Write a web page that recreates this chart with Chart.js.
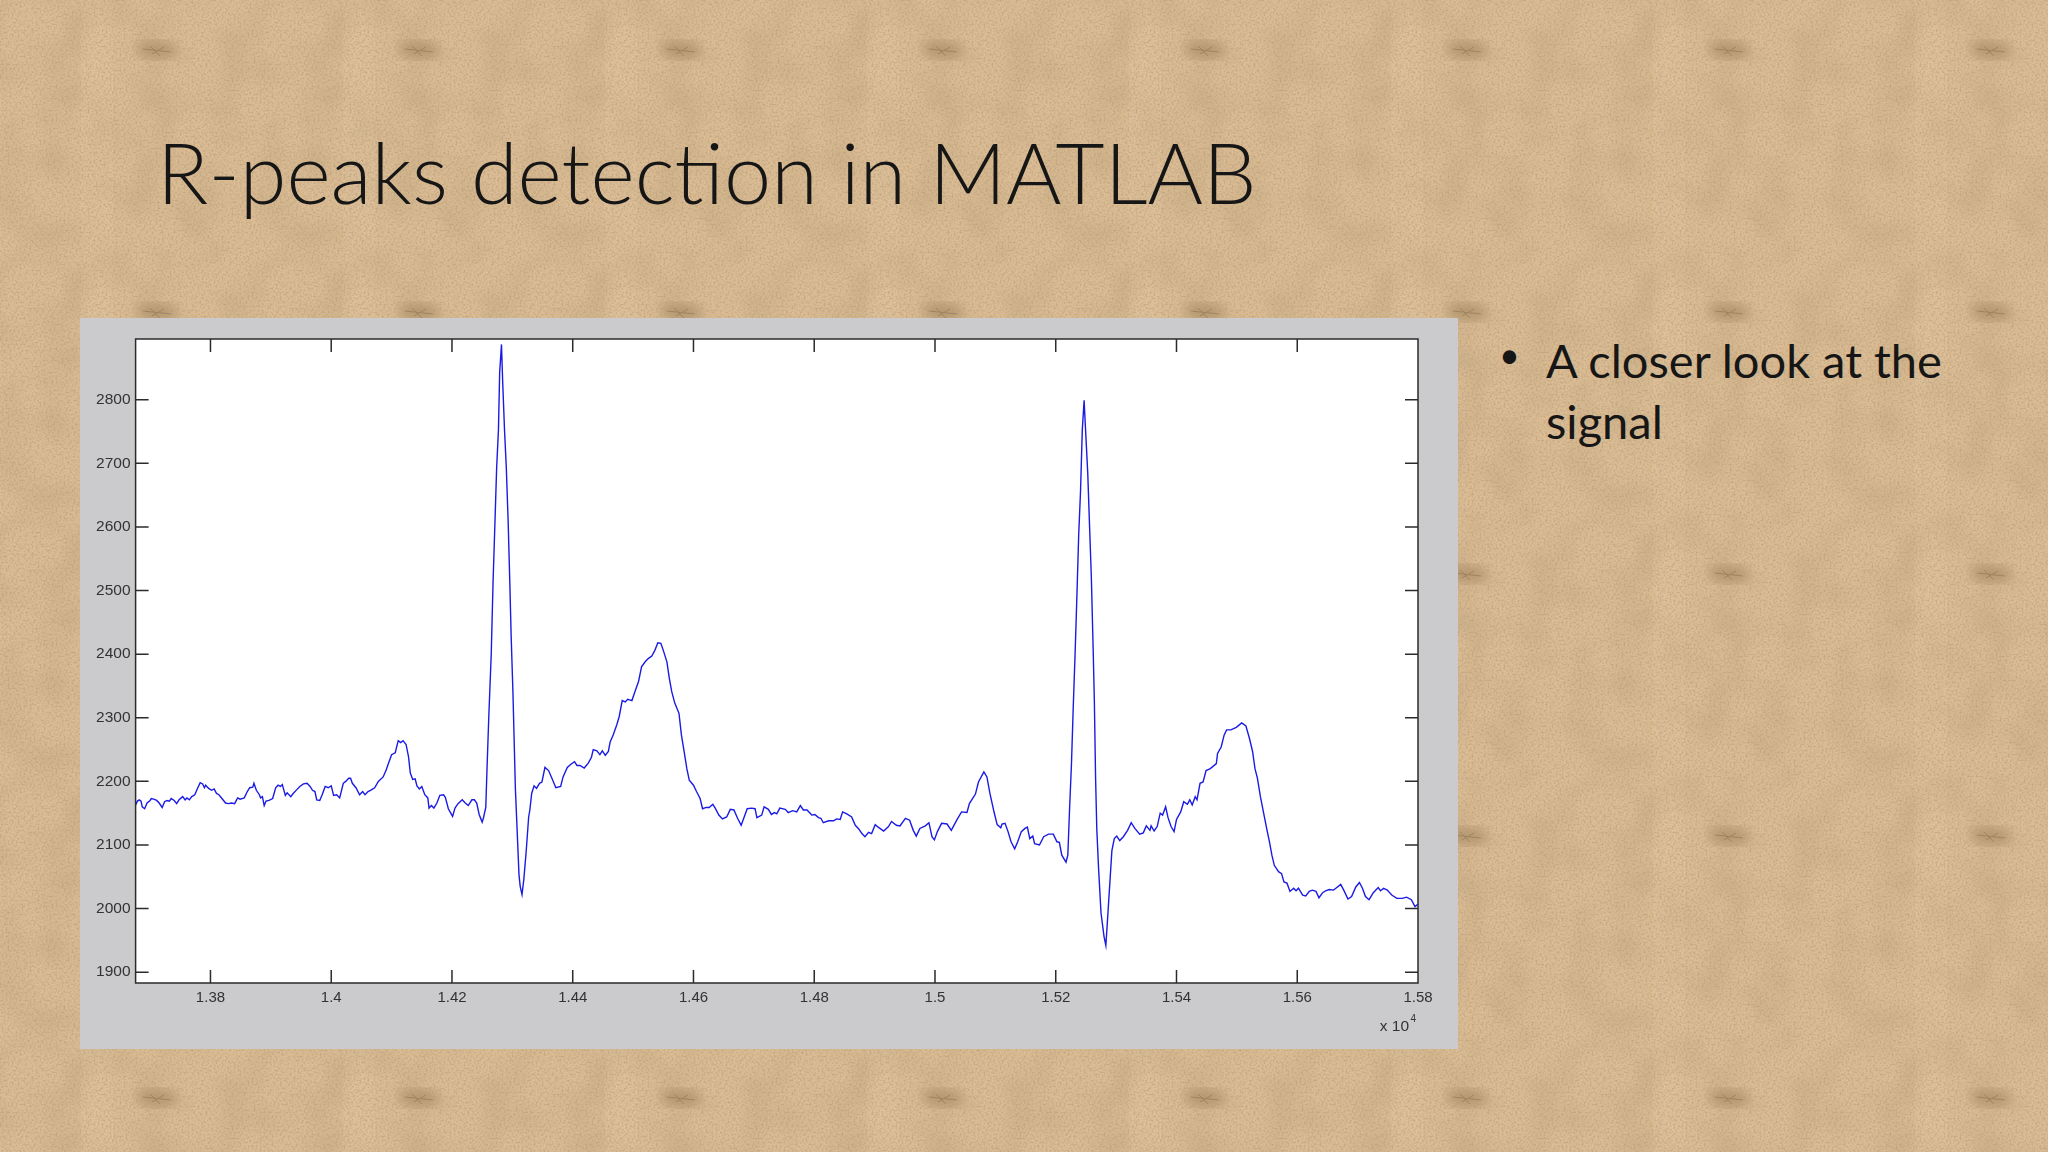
<!DOCTYPE html>
<html>
<head>
<meta charset="utf-8">
<title>R-peaks detection in MATLAB</title>
<script src="https://cdn.jsdelivr.net/npm/chart.js@4"></script>
<style>
  html, body { margin: 0; padding: 0; }
  body {
    width: 2048px; height: 1152px; overflow: hidden; position: relative;
    background-color: #dcbd95;
    background-image: url("data:image/svg+xml,%3Csvg xmlns='http://www.w3.org/2000/svg' width='262' height='262'%3E%3Cdefs%3E%3Cfilter id='n' x='0' y='0' width='100%25' height='100%25'%3E%3CfeTurbulence type='fractalNoise' baseFrequency='0.5' numOctaves='3' stitchTiles='stitch'/%3E%3CfeColorMatrix values='0 0 0 0 0.45 0 0 0 0 0.32 0 0 0 0 0.18 0 0 0 2.6 -1.05'/%3E%3C/filter%3E%3Cfilter id='m' x='0' y='0' width='100%25' height='100%25'%3E%3CfeTurbulence type='fractalNoise' baseFrequency='0.023' numOctaves='2' stitchTiles='stitch'/%3E%3CfeColorMatrix values='0 0 0 0 0.55 0 0 0 0 0.4 0 0 0 0 0.22 0 0 0 2.4 -0.95'/%3E%3C/filter%3E%3Cfilter id='b'%3E%3CfeGaussianBlur stdDeviation='6'/%3E%3C/filter%3E%3Cfilter id='c'%3E%3CfeGaussianBlur stdDeviation='16'/%3E%3C/filter%3E%3C/defs%3E%3Crect width='262' height='262' filter='url(%23m)' opacity='.5'/%3E%3Crect x='84' y='0' width='26' height='262' fill='%23ecd6b6' opacity='.28' filter='url(%23c)'/%3E%3Cellipse cx='157' cy='50' rx='20' ry='9' fill='%23937650' opacity='.5' filter='url(%23b)'/%3E%3Cpath d='M143 49 L171 52 M150 46 L160 56 M152 54 L164 47' stroke='%23735a3a' stroke-width='1' opacity='.45'/%3E%3Crect width='262' height='262' filter='url(%23n)' opacity='.6'/%3E%3C/svg%3E");
    color: #161616;
  }
  #title {
    position: absolute; left: 157px; top: 121px; margin: 0;
    font: 300 84.7px/100px Lato, sans-serif; white-space: nowrap;
  }
  #panel {
    position: absolute; left: 80px; top: 318px; width: 1378px; height: 731px;
    background: #cbcacc;
  }
  #bullet {
    position: absolute; left: 1546px; top: 330px; margin: 0; width: 480px;
    font: 400 47px/61px Lato, sans-serif;
  }
  #dot {
    position: absolute; left: 1499px; top: 336px;
    font: 400 36px/36px Lato, sans-serif;
  }
</style>
</head>
<body>
<h1 id="title" style="font-weight:300">R-peaks detection in MATLAB</h1>
<div id="panel"><canvas id="ecg" width="1378" height="731"></canvas></div>
<div id="dot">•</div>
<p id="bullet">A closer look at the signal</p>

<script>
// values: sample index, amplitude
const signalX = [
  13676,13679,13682,13685,13687,13691,13695,13700,13702,13706,13711,13715,13720,13724,13728,13732,13735,13740,13744,13748,
  13754,13758,13761,13765,13769,13774,13779,13783,13787,13790,13792,13797,13802,13806,13810,13814,13819,13825,13830,13835,
  13840,13845,13849,13856,13861,13865,13870,13872,13876,13881,13883,13886,13889,13892,13897,13903,13908,13912,13916,13919,
  13924,13927,13933,13937,13943,13948,13954,13960,13965,13969,13973,13976,13981,13985,13990,13995,14000,14004,14009,14014,
  14020,14024,14029,14032,14035,14041,14047,14052,14056,14061,14065,14072,14078,14086,14091,14094,14100,14106,14111,14115,
  14119,14124,14128,14131,14135,14139,14142,14146,14150,14155,14160,14162,14166,14170,14175,14180,14186,14189,14194,14198,
  14201,14205,14210,14217,14222,14227,14233,14237,14241,14245,14250,14252,
  14256,14258,14261,14265,14268,14271,14274,14277,14279,14282,14284,14287,14290,14293,14296,14298,14301,14303,14305,14307,
  14309,14311,14313,14316,14319,14323,14327,
  14329,14332,14336,14340,14345,14349,14354,14360,14365,14372,14380,14384,14391,14397,14403,14407,14412,14419,14426,14431,
  14434,14440,14445,14449,14454,14459,14462,14467,14473,14477,14482,14487,14491,14498,14503,14509,14514,14520,14525,14531,
  14536,14541,14546,14550,14556,14560,14564,14569,14576,14580,14585,14589,14593,14600,14605,14611,14615,14621,14626,14632,
  14636,14642,14648,14655,14661,14667,14673,14679,14684,14689,14696,14702,14705,14713,14717,14724,14729,14734,14738,14743,
  14752,14757,14764,14771,14777,14782,14788,14796,14801,14807,14811,14815,14824,14832,14837,14843,14847,14854,14862,14868,
  14873,14879,14884,14890,14895,14901,14906,14915,14923,14928,14936,14942,14951,14958,14964,14969,14975,14984,14990,14995,
  14999,15004,15011,15020,15027,15036,15044,15053,15057,15067,15072,15081,15086,15091,15098,15103,15109,
  15111,15116,15121,15126,15132,15137,15143,15149,15153,15157,15162,15165,15173,15180,15188,15196,15202,15206,15210,15217,15220,
  15223,15226,15229,15232,15235,15238,15241,15244,15247,15249,15253,15256,15259,15262,15264,15266,15268,15271,15275,15280,
  15283,15285,15289,15293,15297,
  15301,15306,15312,15319,15325,15331,15339,15345,15350,15356,15358,15363,15368,15373,15377,15382,15386,15391,15396,15400,
  15407,15412,15418,15422,15426,15431,15434,15439,15444,15449,15456,15466,15468,15474,15479,15483,15490,15499,15508,15515,
  15521,15526,15530,15534,15539,15545,15550,15554,15558,15562,15569,15574,15578,15583,15588,15594,15598,15602,15609,15614,
  15620,15625,15631,15636,15642,15647,15653,15660,15664,15672,15677,15684,15690,15697,15703,15708,15713,15719,15726,15734,
  15738,15743,15749,15757,15765,15774,15781,15789,15795,15800
];
const signalY = [
  2163,2169,2171,2169,2160,2157,2166,2170,2173,2172,2170,2166,2159,2168,2170,2169,2173,2170,2165,2171,
  2176,2171,2174,2171,2176,2179,2190,2198,2196,2190,2194,2189,2186,2188,2181,2179,2173,2166,2165,2166,
  2165,2174,2172,2174,2184,2190,2191,2197,2186,2179,2174,2176,2162,2169,2170,2173,2190,2194,2192,2195,
  2178,2182,2176,2181,2187,2192,2196,2197,2192,2186,2184,2171,2170,2179,2192,2190,2193,2178,2179,2174,
  2197,2200,2205,2205,2197,2190,2179,2184,2179,2184,2186,2190,2200,2207,2218,2226,2242,2245,2264,2261,
  2264,2258,2239,2213,2203,2204,2193,2188,2192,2179,2174,2158,2162,2158,2166,2178,2179,2175,2157,2150,
  2145,2158,2165,2171,2166,2162,2171,2171,2166,2148,2136,2142,
  2159,2219,2302,2399,2512,2602,2693,2753,2843,2887,2828,2753,2693,2610,2505,2429,2339,2264,2189,2144,
  2099,2053,2035,2022,2046,2091,2144,
  2155,2181,2193,2189,2197,2199,2222,2217,2206,2190,2192,2207,2222,2227,2231,2225,2225,2221,2229,2238,
  2250,2248,2242,2248,2241,2247,2262,2273,2289,2302,2327,2325,2329,2327,2341,2357,2380,2388,2393,2397,
  2406,2418,2417,2406,2388,2362,2341,2323,2307,2273,2244,2220,2202,2194,2184,2173,2157,2159,2159,2164,
  2158,2147,2141,2144,2156,2155,2142,2131,2144,2157,2158,2157,2143,2147,2160,2156,2148,2151,2149,2158,
  2156,2151,2154,2152,2162,2155,2155,2147,2148,2143,2142,2135,2138,2138,2141,2140,2152,2149,2144,2131,
  2126,2118,2113,2120,2118,2132,2128,2122,2129,2137,2131,2130,2142,2139,2123,2114,2126,2130,2135,2113,
  2108,2121,2134,2133,2123,2139,2152,2151,2165,2180,2199,2215,2207,2181,2151,2132,2127,
  2133,2134,2121,2105,2094,2105,2121,2126,2128,2110,2114,2102,2100,2113,2117,2117,2105,2104,2084,2073,2084,
  2159,2226,2317,2399,2490,2587,2655,2753,2799,2760,2685,2602,2520,2407,2324,2205,2125,2062,1993,1956,
  1942,1971,2031,2091,2110,
  2114,2107,2113,2123,2135,2126,2117,2119,2130,2123,2130,2122,2129,2150,2147,2160,2143,2129,2121,2140,
  2152,2168,2164,2171,2163,2176,2171,2197,2199,2217,2220,2228,2244,2254,2273,2281,2281,2285,2292,2287,
  2267,2247,2220,2205,2176,2147,2123,2105,2084,2068,2058,2055,2042,2040,2027,2032,2028,2032,2021,2020,
  2027,2029,2027,2017,2025,2028,2030,2029,2032,2038,2029,2015,2019,2034,2041,2032,2019,2014,2025,2033,
  2028,2032,2029,2021,2016,2016,2018,2014,2003,2007
];
const xTicks = [13800,14000,14200,14400,14600,14800,15000,15200,15400,15600,15800];
const xTickLabels = ['1.38','1.4','1.42','1.44','1.46','1.48','1.5','1.52','1.54','1.56','1.58'];
const yTicks = [1900,2000,2100,2200,2300,2400,2500,2600,2700,2800];

const AXIS_COLOR = '#2b2b2b';
const TICK_LEN = 13;

// MATLAB style box: inward ticks on all four sides, exponent under the last tick
const matlabBox = {
  id: 'matlabBox',
  afterDatasetsDraw(chart) {
    const { ctx, chartArea: a, scales } = chart;
    ctx.save();
    ctx.strokeStyle = AXIS_COLOR;
    ctx.lineWidth = 1.5;
    ctx.beginPath();
    xTicks.forEach(v => {
      const x = scales.x.getPixelForValue(v);
      ctx.moveTo(x, a.bottom); ctx.lineTo(x, a.bottom - TICK_LEN);
      ctx.moveTo(x, a.top); ctx.lineTo(x, a.top + TICK_LEN);
    });
    yTicks.forEach(v => {
      const y = scales.y.getPixelForValue(v);
      ctx.moveTo(a.left, y); ctx.lineTo(a.left + TICK_LEN, y);
      ctx.moveTo(a.right, y); ctx.lineTo(a.right - TICK_LEN, y);
    });
    ctx.rect(a.left, a.top, a.right - a.left, a.bottom - a.top);
    ctx.stroke();

    ctx.fillStyle = '#333';
    ctx.textBaseline = 'alphabetic';
    ctx.textAlign = 'right';
    ctx.font = '15.5px "Liberation Sans"';
    ctx.fillText('x 10', a.right - 9, a.bottom + 48);
    ctx.font = '10px "Liberation Sans"';
    ctx.fillText('4', a.right - 2, a.bottom + 39);
    ctx.restore();
  }
};

new Chart(document.getElementById('ecg'), {
  type: 'scatter',
  data: {
    datasets: [{
      data: signalX.map((x, i) => ({ x, y: signalY[i] })),
      showLine: true,
      borderColor: '#1a1ae6',
      borderWidth: 1.4,
      pointRadius: 0,
      tension: 0
    }]
  },
  options: {
    responsive: false,
    animation: false,
    layout: { autoPadding: false, padding: { left: 0, top: 21, right: 40, bottom: 0 } },
    plugins: { legend: { display: false }, tooltip: { enabled: false } },
    scales: {
      x: {
        type: 'linear',
        min: 13676,
        max: 15800,
        grid: { display: false, drawTicks: false },
        border: { display: false },
        afterFit: s => { s.height = 66; },
        afterBuildTicks: s => { s.ticks = xTicks.map(value => ({ value })); },
        ticks: {
          color: '#333',
          font: { family: 'Liberation Sans', size: 15 },
          padding: 6,
          maxRotation: 0,
          autoSkip: false,
          callback: v => xTickLabels[xTicks.indexOf(v)]
        }
      },
      y: {
        type: 'linear',
        min: 1883,
        max: 2895.5,
        grid: { display: false, drawTicks: false },
        border: { display: false },
        afterFit: s => { s.width = 55.6; },
        afterBuildTicks: s => { s.ticks = yTicks.map(value => ({ value })); },
        ticks: {
          color: '#333',
          font: { family: 'Liberation Sans', size: 15.5 },
          padding: 5,
          autoSkip: false,
          callback: v => String(v)
        }
      }
    }
  },
  plugins: [
    { id: 'white', beforeDatasetsDraw(c) {
        const a = c.chartArea;
        c.ctx.save();
        c.ctx.fillStyle = '#fff';
        c.ctx.fillRect(a.left, a.top, a.right - a.left, a.bottom - a.top);
        c.ctx.restore();
    } },
    matlabBox
  ]
});
</script>
</body>
</html>
